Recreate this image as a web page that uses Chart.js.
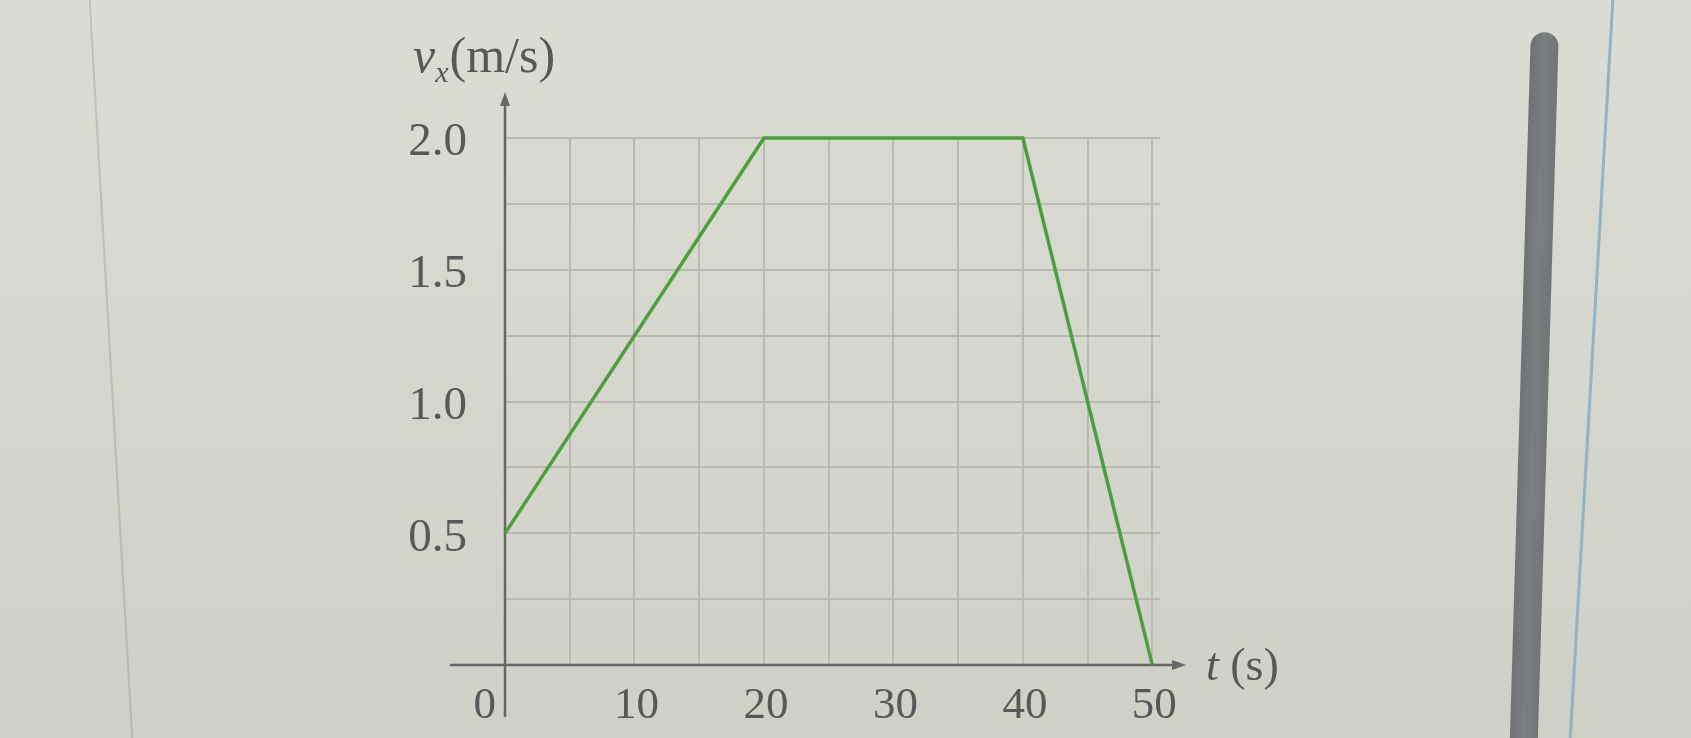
<!DOCTYPE html>
<html>
<head>
<meta charset="utf-8">
<script src="https://cdn.jsdelivr.net/npm/chart.js@4.4.1/dist/chart.umd.min.js"></script>
<style>
  html, body {
    margin: 0;
    padding: 0;
    width: 1691px;
    height: 738px;
    overflow: hidden;
    background: linear-gradient(180deg, #dcdcd5 0%, #d5d6ce 50%, #cfd0c6 100%);
  }
  #chartArea { position: absolute; left: 0; top: 0; }
  .deco { position: absolute; }
  #leftLine {
    left: 110px; top: -20px; width: 2px; height: 780px;
    background: rgba(150, 138, 140, 0.35);
    transform: rotate(-3.3deg);
  }
  #scrollBar {
    left: 1520px; top: 32px; width: 28px; height: 730px;
    border-radius: 14px;
    background: linear-gradient(90deg, #6f7274, #7c7f81 50%, #727577);
    transform: rotate(1.7deg);
  }
  #blueLine {
    left: 1590px; top: -20px; width: 3px; height: 780px;
    background: #93b3c4;
    transform: rotate(3.3deg);
  }
</style>
</head>
<body>
<div class="deco" id="leftLine"></div>
<div class="deco" id="scrollBar"></div>
<div class="deco" id="blueLine"></div>
<div id="chartArea">
  <canvas id="myChart" width="1691" height="738"></canvas>
</div>
<script>
// velocity graph data
const timeValues = [0, 20, 40, 50];
const velocityValues = [0.5, 2.0, 2.0, 0];

// tick labels
const xTickValues = [0, 10, 20, 30, 40, 50];
const yTickValues = [0.5, 1.0, 1.5, 2.0];

// grid lines (every 5 s and every 0.25 m/s)
const xGridValues = [5, 10, 15, 20, 25, 30, 35, 40, 45, 50];
const yGridValues = [0.25, 0.5, 0.75, 1.0, 1.25, 1.5, 1.75, 2.0];

const gridColor = '#b9bab2';
const axisColor = '#666868';
const textColor = '#575858';
const lineColor = '#4b9f3d';
const serif = '"Liberation Serif", "DejaVu Serif", serif';

// draws grid, axes with arrows and the labels
const axesPlugin = {
  id: 'axesPlugin',
  beforeDatasetsDraw(chart) {
    const { ctx, chartArea, scales: { x, y } } = chart;
    const x0 = x.getPixelForValue(0);
    const y0 = y.getPixelForValue(0);
    const gridRight = x.getPixelForValue(50.6);
    const gridTop = y.getPixelForValue(2.0);

    ctx.save();
    ctx.strokeStyle = gridColor;
    ctx.lineWidth = 2;
    xGridValues.forEach((v) => {
      const px = Math.round(x.getPixelForValue(v));
      ctx.beginPath();
      ctx.moveTo(px, y0);
      ctx.lineTo(px, gridTop);
      ctx.stroke();
    });
    yGridValues.forEach((v) => {
      const py = Math.round(y.getPixelForValue(v));
      ctx.beginPath();
      ctx.moveTo(x0, py);
      ctx.lineTo(gridRight, py);
      ctx.stroke();
    });

    // axes
    ctx.strokeStyle = axisColor;
    ctx.fillStyle = axisColor;
    ctx.lineWidth = 2.5;
    ctx.beginPath();
    ctx.moveTo(chartArea.left, y0);
    ctx.lineTo(chartArea.right - 8, y0);
    ctx.moveTo(x0, chartArea.bottom);
    ctx.lineTo(x0, chartArea.top + 8);
    ctx.stroke();

    // arrow heads
    ctx.beginPath();
    ctx.moveTo(chartArea.right, y0);
    ctx.lineTo(chartArea.right - 14, y0 - 5);
    ctx.lineTo(chartArea.right - 14, y0 + 5);
    ctx.closePath();
    ctx.fill();
    ctx.beginPath();
    ctx.moveTo(x0, chartArea.top);
    ctx.lineTo(x0 - 5, chartArea.top + 14);
    ctx.lineTo(x0 + 5, chartArea.top + 14);
    ctx.closePath();
    ctx.fill();

    // tick labels
    ctx.fillStyle = textColor;
    ctx.font = '47px ' + serif;
    ctx.textBaseline = 'middle';
    ctx.textAlign = 'right';
    yTickValues.forEach((v) => {
      ctx.fillText(v.toFixed(1), x0 - 38, y.getPixelForValue(v) + 5);
    });
    ctx.font = '45px ' + serif;
    xTickValues.forEach((v) => {
      if (v === 0) {
        ctx.textAlign = 'right';
        ctx.fillText('0', x0 - 9, y0 + 41);
      } else {
        ctx.textAlign = 'center';
        ctx.fillText(String(v), x.getPixelForValue(v) + 2, y0 + 41);
      }
    });

    // axis titles
    ctx.textAlign = 'left';
    ctx.textBaseline = 'alphabetic';
    let tx = x0 - 92;
    const ty = chartArea.top - 20;
    ctx.font = 'italic 50px ' + serif;
    ctx.fillText('v', tx, ty);
    tx += ctx.measureText('v').width;
    ctx.font = 'italic 30px ' + serif;
    ctx.fillText('x', tx, ty + 10);
    tx += ctx.measureText('x').width + 1;
    ctx.font = '50px ' + serif;
    ctx.fillText('(m/s)', tx, ty);

    let sx = chartArea.right + 20;
    ctx.font = 'italic 46px ' + serif;
    ctx.fillText('t', sx, y0 + 15);
    sx += ctx.measureText('t').width;
    ctx.font = '46px ' + serif;
    ctx.fillText(' (s)', sx, y0 + 15);
    ctx.restore();
  },
};

let chart;
function createVelocityChart() {
  const ctx = document.getElementById('myChart').getContext('2d');
  chart = new Chart(ctx, {
    type: 'line',
    data: {
      datasets: [
        {
          label: 'v_x',
          data: timeValues.map((t, i) => ({ x: t, y: velocityValues[i] })),
          borderColor: lineColor,
          borderWidth: 3.5,
          pointRadius: 0,
          tension: 0,
          fill: false,
          borderJoinStyle: 'miter',
        },
      ],
    },
    options: {
      responsive: false,
      animation: false,
      layout: {
        padding: { left: 450, right: 505, top: 92, bottom: 21 },
      },
      plugins: {
        legend: { display: false },
        tooltip: { enabled: false },
      },
      scales: {
        x: { type: 'linear', min: -4.25, max: 52.6, display: false },
        y: { type: 'linear', min: -0.197, max: 2.175, display: false },
      },
    },
    plugins: [axesPlugin],
  });
}

createVelocityChart();
</script>
</body>
</html>
